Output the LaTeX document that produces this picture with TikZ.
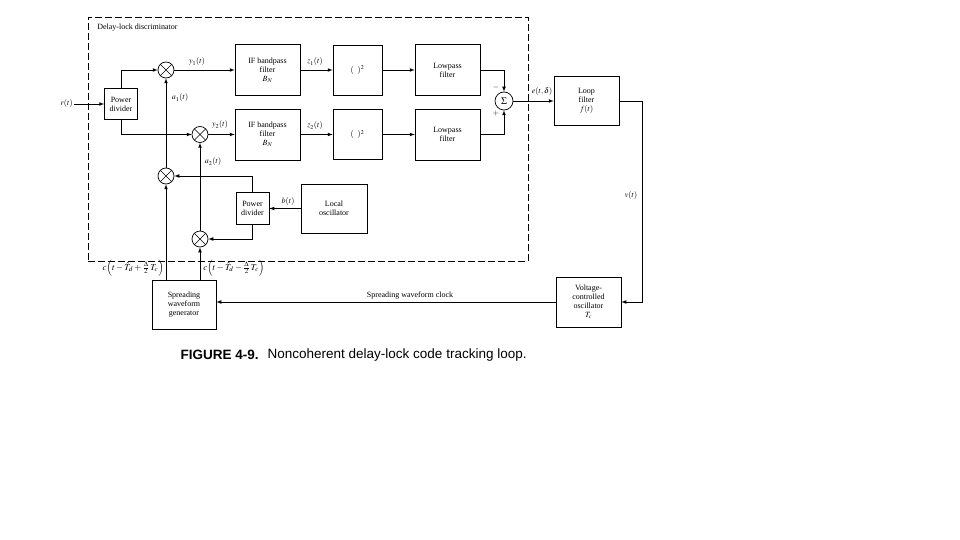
\documentclass[tikz,border=0pt]{standalone}
\usepackage{mathptmx}
\usepackage{fontspec}
\setmainfont{Liberation Serif}
\newfontfamily\capfont{Liberation Sans}
\usepackage{tikz}
\usetikzlibrary{positioning,calc}

\begin{document}
\begin{tikzpicture}[x=1pt, y=-1pt, >=latex, line width=0.7pt,
    blockbox/.style={draw, align=center, font=\fontsize{8}{9}\selectfont, inner sep=1pt},
    mixer/.style={draw, circle, minimum size=16pt, inner sep=0pt,
      path picture={\draw (path picture bounding box.north west) -- (path picture bounding box.south east)
        (path picture bounding box.north east) -- (path picture bounding box.south west);}},
    sig/.style={font=\fontsize{8}{9}\selectfont, inner sep=1pt}]
      \useasboundingbox (0,0) rectangle (960,540);
      \node (disc) [draw, dash pattern=on 7pt off 3pt, minimum width=440pt, minimum height=244pt] at (308,139) {};
      \node (disc_text) [sig, anchor=west] at (96,28) {Delay-lock discriminator};

      \node (pd1) [blockbox, minimum width=33pt, minimum height=31pt] at (121,104) {Power\\divider};
      \node (m1) [mixer] at (166,70) {};
      \node (m2) [mixer] at (200,134.5) {};
      \node (m3) [mixer] at (166,176) {};
      \node (m4) [mixer] at (200,239) {};
      \node (if1) [blockbox, minimum width=65pt, minimum height=51pt] at (267.5,70) {IF bandpass\\filter\\$B_N$};
      \node (if2) [blockbox, minimum width=65pt, minimum height=51pt] at (267.5,134.5) {IF bandpass\\filter\\$B_N$};
      \node (sq1) [blockbox, minimum width=49pt, minimum height=50pt] at (357.5,70) {$(\ \ )^2$};
      \node (sq2) [blockbox, minimum width=49pt, minimum height=50pt] at (357.5,134.5) {$(\ \ )^2$};
      \node (lp1) [blockbox, minimum width=65pt, minimum height=51pt] at (447.5,70) {Lowpass\\filter};
      \node (lp2) [blockbox, minimum width=65pt, minimum height=51pt] at (447.5,134.5) {Lowpass\\filter};
      \node (sum) [draw, circle, minimum size=18pt, inner sep=0pt] at (504,101) {$\Sigma$};
      \node (lf) [blockbox, minimum width=65pt, minimum height=49pt] at (586.5,101) {Loop\\filter\\$f(t)$};
      \node (vco) [blockbox, minimum width=65pt, minimum height=50pt] at (588.5,302) {Voltage-\\controlled\\oscillator\\$T_c$};
      \node (gen) [blockbox, minimum width=64pt, minimum height=49pt] at (184,305) {Spreading\\waveform\\generator};
      \node (pd2) [blockbox, minimum width=33pt, minimum height=32pt] at (252.5,208.5) {Power\\divider};
      \node (lo) [blockbox, minimum width=66pt, minimum height=49pt] at (334,208.5) {Local\\oscillator};

      \coordinate (rin) at (74,104);
      \node (r_text) [sig, left] at (rin) {$r(t)$};
      \draw [->] (rin) -- (pd1.west);
      \draw [->] (pd1.north) |- (m1.west);
      \draw [->] (pd1.south) |- (m2.west);
      \draw [->] (m1.east) -- (m1.east -| if1.west);
      \draw [->] (m2.east) -- (m2.east -| if2.west);
      \draw [->] (if1.east) -- (sq1.west);
      \draw [->] (if2.east) -- (sq2.west);
      \draw [->] (sq1.east) -- (lp1.west);
      \draw [->] (sq2.east) -- (lp2.west);
      \draw [->] (lp1.east) -| (sum.north);
      \draw [->] (lp2.east) -| (sum.south);
      \draw [->] (sum.east) -- (sum.east -| lf.west);
      \draw [->] (lf.east) -- ++(23,0) |- (vco.east);
      \draw [->] (vco.west) -- (vco.west -| gen.east);
      \draw [->] (m3.south |- gen.north) -- (m3.south);
      \draw [->] (m4.south |- gen.north) -- (m4.south);
      \draw [->] (m3.north) -- (m1.south);
      \draw [->] (m4.north) -- (m2.south);
      \draw [->] (pd2.north) |- (m3.east);
      \draw [->] (pd2.south) |- (m4.east);
      \draw [->] (lo.west) -- (pd2.east);

      \node (y1_text) [sig] at (197,62) {$y_1(t)$};
      \node (y2_text) [sig] at (220,125) {$y_2(t)$};
      \node (a1_text) [sig] at (180,98) {$a_1(t)$};
      \node (a2_text) [sig] at (213,162) {$a_2(t)$};
      \node (z1_text) [sig] at (315,62) {$z_1(t)$};
      \node (z2_text) [sig] at (315,126) {$z_2(t)$};
      \node (minus_text) [sig] at (496,88) {$-$};
      \node (plus_text) [sig] at (496,114) {$+$};
      \node (e_text) [sig] at (542,92) {$e(t,\delta)$};
      \node (v_text) [sig] at (631,195) {$v(t)$};
      \node (b_text) [sig] at (288,202) {$b(t)$};
      \node (clock_text) [sig] at (410,296) {Spreading waveform clock};
      \node (c1_text) [sig, anchor=east, font=\fontsize{9}{10}\selectfont] at (165,268) {$c\Bigl(t-\hat{T}_d+{\textstyle\frac{\Delta}{2}}\,T_c\Bigr)$};
      \node (c2_text) [sig, anchor=west, font=\fontsize{9}{10}\selectfont] at (202,268) {$c\Bigl(t-\hat{T}_d-{\textstyle\frac{\Delta}{2}}\,T_c\Bigr)$};

      \node (fig_text) [anchor=west, font=\capfont\bfseries\fontsize{13.5}{15}\selectfont] at (177,355) {FIGURE 4-9.};
      \node (cap_text) [anchor=west, font=\capfont\fontsize{13.5}{15}\selectfont] at (264,355) {Noncoherent delay-lock code tracking loop.};
\end{tikzpicture}
\end{document}
